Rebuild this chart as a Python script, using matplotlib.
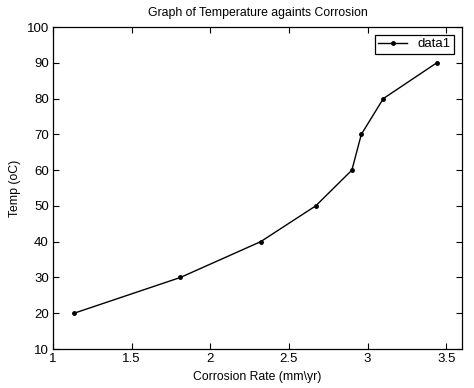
import matplotlib
matplotlib.use("Agg")
import matplotlib.pyplot as plt

plt.rcParams['font.family'] = ['Liberation Sans', 'DejaVu Sans']

# data
corrosion_rate = [1.134, 1.81, 2.32, 2.67, 2.90, 2.96, 3.10, 3.44]
temperature = [20, 30, 40, 50, 60, 70, 80, 90]

x_ticks = [1, 1.5, 2, 2.5, 3, 3.5]
y_ticks = [10, 20, 30, 40, 50, 60, 70, 80, 90, 100]

fig = plt.figure(figsize=(4.74, 3.88), dpi=100)
ax = fig.add_axes([0.1118, 0.1005, 0.8629, 0.8299])

ax.plot(corrosion_rate, temperature, color='black', linewidth=1.0,
        marker='.', markersize=5, label='data1')

ax.set_xlim(1, 3.6)
ax.set_ylim(10, 100)
ax.set_xticks(x_ticks)
ax.set_xticklabels(['1', '1.5', '2', '2.5', '3', '3.5'])
ax.set_yticks(y_ticks)
ax.tick_params(direction='in', top=True, right=True, length=4,
               labelsize=9.5, width=0.8, pad=3)
for s in ax.spines.values():
    s.set_linewidth(0.9)

ax.set_title('Graph of Temperature againts Corrosion', fontsize=8.8, pad=8)
ax.set_xlabel('Corrosion Rate (mm\\yr)', fontsize=8.8, labelpad=4)
ax.set_ylabel('Temp (oC)', fontsize=8.8, labelpad=4)

leg = ax.legend(loc='upper right', fontsize=9.5, fancybox=False,
                edgecolor='black', framealpha=1, borderpad=0.25,
                handlelength=2.2, borderaxespad=0.6)
leg.get_frame().set_linewidth(0.9)

fig.savefig('out.png', dpi=100)
